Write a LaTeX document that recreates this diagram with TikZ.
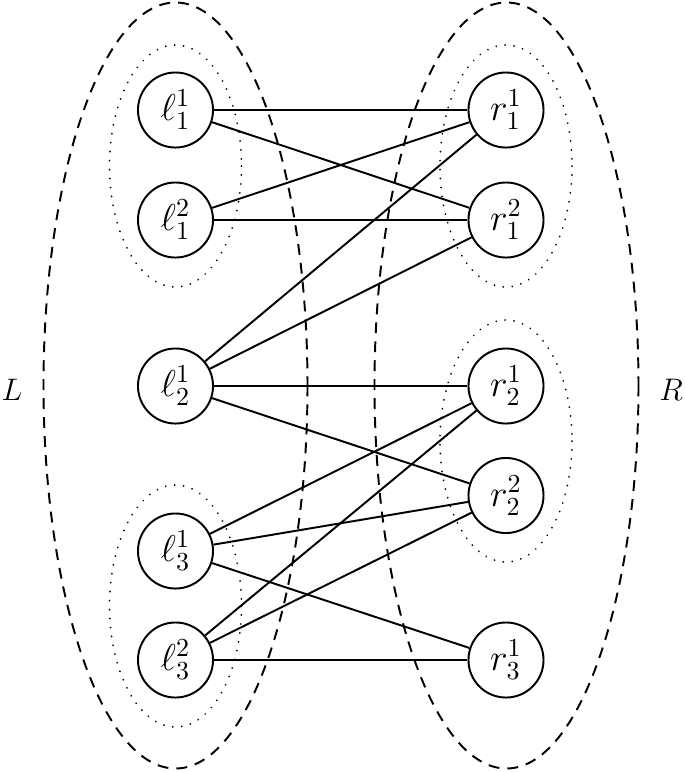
\documentclass[tikz,border=0pt]{standalone}
\begin{document}
\begin{tikzpicture}[x=0.385pt,y=-0.385pt,
  vtx/.style={draw,circle,line width=0.75pt,minimum size=28.9pt,inner sep=0pt,font=\Large},
  edge/.style={line width=0.75pt},
  bigset/.style={line width=0.75pt,dash pattern=on 4.2pt off 3.1pt},
  group/.style={line width=0.75pt,dash pattern=on 0.01pt off 3.45pt,line cap=round},
  setlabel/.style={inner sep=0pt,font=\large}]
\useasboundingbox (0,0) rectangle (685,772);
% big dashed sets
\draw[bigset] (175.5,385.5) ellipse [x radius=132, y radius=383];
\draw[bigset] (506.5,385.5) ellipse [x radius=132, y radius=383];
% dotted groups
\draw[group] (175.5,166) ellipse [x radius=66, y radius=121];
\draw[group] (506,166) ellipse [x radius=66, y radius=121];
\draw[group] (506,441) ellipse [x radius=66, y radius=121];
\draw[group] (175.5,606) ellipse [x radius=66, y radius=121];
% nodes
\node[vtx] (l11) at (175.5,110) {$\ell_1^1$};
\node[vtx] (l12) at (175.5,220) {$\ell_1^2$};
\node[vtx] (l2)  at (175.5,386) {$\ell_2^1$};
\node[vtx] (l31) at (175.5,551) {$\ell_3^1$};
\node[vtx] (l32) at (175.5,660) {$\ell_3^2$};
\node[vtx] (r11) at (506,110) {$r_1^1$};
\node[vtx] (r12) at (506,220) {$r_1^2$};
\node[vtx] (r21) at (506,386) {$r_2^1$};
\node[vtx] (r22) at (506,495.5) {$r_2^2$};
\node[vtx] (r31) at (506,660) {$r_3^1$};
% labels
\node[setlabel] (L) at (12,390) {$L$};
\node[setlabel] (R) at (671,390) {$R$};
% edges
\draw[edge] (l11) -- (r11);
\draw[edge] (l11) -- (r12);
\draw[edge] (l12) -- (r11);
\draw[edge] (l12) -- (r12);
\draw[edge] (l2) -- (r11);
\draw[edge] (l2) -- (r12);
\draw[edge] (l2) -- (r21);
\draw[edge] (l2) -- (r22);
\draw[edge] (l31) -- (r21);
\draw[edge] (l31) -- (r22);
\draw[edge] (l31) -- (r31);
\draw[edge] (l32) -- (r21);
\draw[edge] (l32) -- (r22);
\draw[edge] (l32) -- (r31);
\end{tikzpicture}
\end{document}
